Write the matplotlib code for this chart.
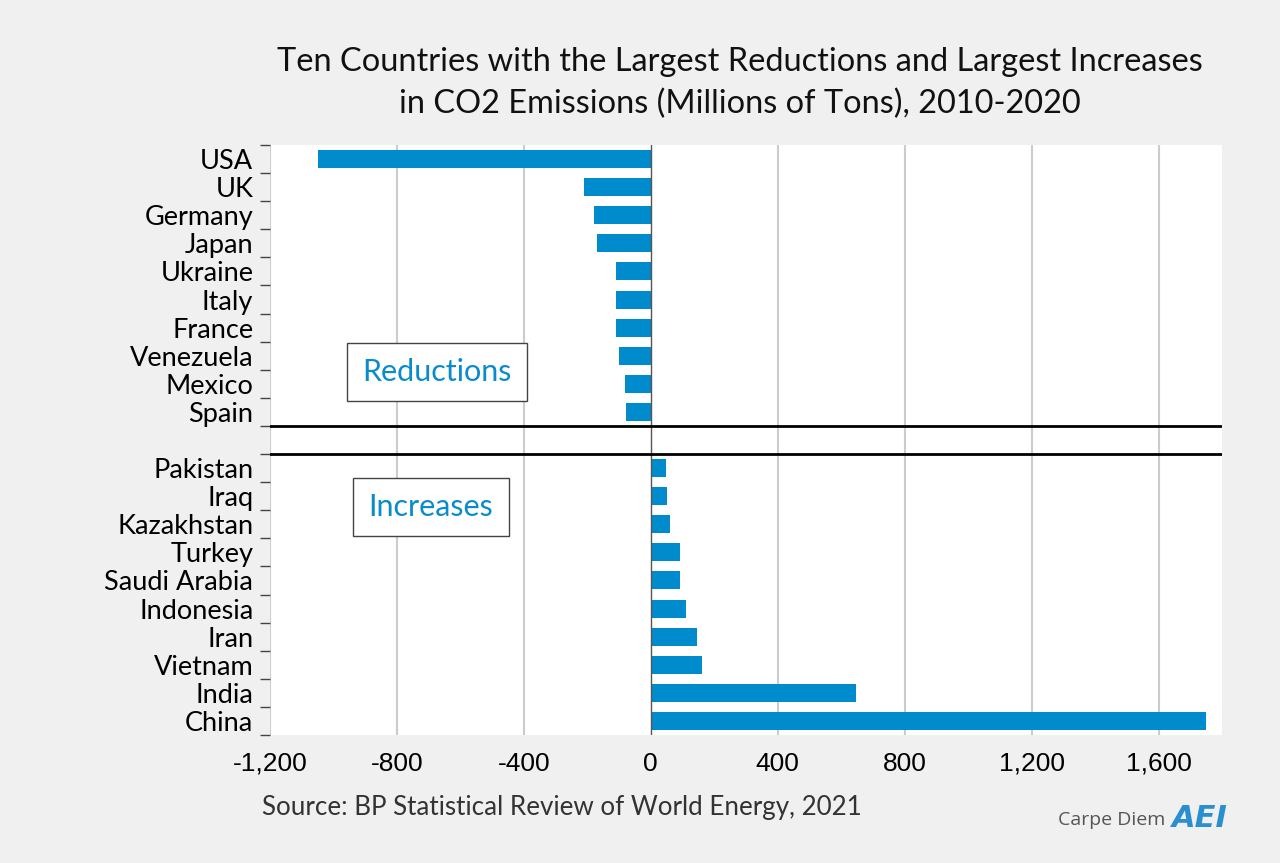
import matplotlib.pyplot as plt
from matplotlib.ticker import FuncFormatter, FixedLocator

# data (millions of tons, 2010-2020 change)
reduction_countries = ["USA", "UK", "Germany", "Japan", "Ukraine", "Italy",
                       "France", "Venezuela", "Mexico", "Spain"]
reduction_values = [-1050, -210, -179, -170, -110, -110, -110, -99, -82, -79]

increase_countries = ["Pakistan", "Iraq", "Kazakhstan", "Turkey", "Saudi Arabia",
                      "Indonesia", "Iran", "Vietnam", "India", "China"]
increase_values = [49, 50, 60, 93, 93, 110, 147, 162, 648, 1749]

x_ticks = [-1200, -800, -400, 0, 400, 800, 1200, 1600]

bar_color = "#008bcc"
bg = "#f0f0f0"

# one empty row between the two groups
labels = reduction_countries + [""] + increase_countries
values = reduction_values + [0] + increase_values
pos = list(range(len(labels)))
gap = len(reduction_countries)

fig = plt.figure(figsize=(12.8, 8.63), dpi=100, facecolor=bg)
ax = fig.add_axes([270 / 1280, 1 - 735 / 863, 952 / 1280, 590 / 863])
ax.set_facecolor("white")

bar_pos = [p for p in pos if p != gap]
bar_val = [v for p, v in zip(pos, values) if p != gap]
ax.barh(bar_pos, bar_val, height=0.64, color=bar_color, zorder=3)

ax.set_xlim(-1200, 1800)
ax.set_ylim(len(labels) - 0.5, -0.5)

# grid + zero line
for t in x_ticks:
    if t != 0:
        ax.axvline(t, color="#cccccc", lw=1.5, zorder=1)
ax.axvline(0, color="#555555", lw=1.0, zorder=4)

# separator lines around the empty row
ax.axhline(gap - 0.5, color="black", lw=2, zorder=5)
ax.axhline(gap + 0.5, color="black", lw=2, zorder=5)

for s in ax.spines.values():
    s.set_visible(False)

ax.set_xticks(x_ticks)
ax.xaxis.set_major_formatter(FuncFormatter(lambda v, p: f"{v:,.0f}"))
ax.tick_params(axis="x", length=0, pad=12)
for lab in ax.get_xticklabels():
    lab.set_fontfamily(["Liberation Sans Narrow", "Liberation Sans", "DejaVu Sans"])
    lab.set_fontsize(19)
    lab.set_fontstretch("condensed")

ax.set_yticks(pos)
ax.set_yticklabels(labels, fontfamily="Lato", fontsize=19.5)
ax.tick_params(axis="y", which="major", length=0, pad=12)
ax.yaxis.set_minor_locator(FixedLocator([p - 0.5 for p in pos] + [len(labels) - 0.5]))
ax.tick_params(axis="y", which="minor", length=7, width=1, color="#444444")

# group boxes
box = dict(boxstyle="square,pad=0.5", facecolor="white", edgecolor="#444444", lw=1)
ax.text(-674, 7.58, "Reductions", color="#0a8ccc", fontsize=22, fontfamily="Lato",
        ha="center", va="center", bbox=box, zorder=6)
ax.text(-693, 12.38, "Increases", color="#0a8ccc", fontsize=22, fontfamily="Lato",
        ha="center", va="center", bbox=box, zorder=6)

fig.text(740 / 1280, 1 - 83 / 863,
         "Ten Countries with the Largest Reductions and Largest Increases\n"
         "in CO2 Emissions (Millions of Tons), 2010-2020",
         ha="center", va="center", fontsize=23.4, fontfamily="Lato",
         color="#111111", linespacing=1.45)

fig.text(262 / 1280, 1 - 807 / 863, "Source: BP Statistical Review of World Energy, 2021",
         ha="left", va="center", fontsize=18.7, fontfamily="Lato", color="#333333")

fig.text(1165 / 1280, 1 - 820 / 863, "Carpe Diem", ha="right", va="center",
         fontsize=14, fontfamily="Open Sans", color="#555555")
fig.text(1172 / 1280, 1 - 818 / 863, "AEI", ha="left", va="center",
         fontsize=22, fontweight="bold", fontstyle="italic", fontfamily="DejaVu Sans",
         color="#2a8fd0")

fig.savefig("out.png", dpi=100, facecolor=bg)
